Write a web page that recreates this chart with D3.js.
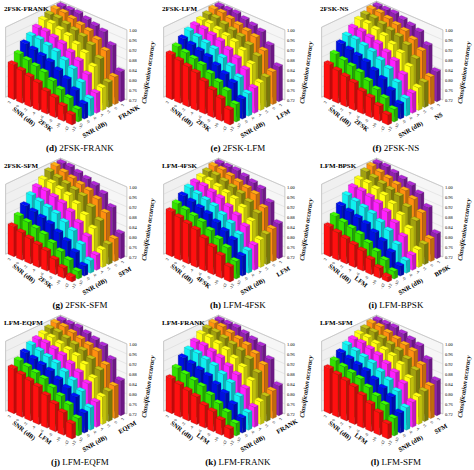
<!DOCTYPE html>
<html><head><meta charset="utf-8">
<script src="https://cdn.jsdelivr.net/npm/d3@7/dist/d3.min.js"></script>
<style>body{margin:0;background:#fff}</style></head>
<body><svg id="c" width="474" height="470"></svg>
<script>
// Panel titles and captions
var titles = ["2FSK-FRANK", "2FSK-LFM", "2FSK-NS", "2FSK-SFM", "LFM-4FSK", "LFM-BPSK", "LFM-EQFM", "LFM-FRANK", "LFM-SFM"];
var captions = ["(d) 2FSK-FRANK", "(e) 2FSK-LFM", "(f) 2FSK-NS", "(g) 2FSK-SFM", "(h) LFM-4FSK", "(i) LFM-BPSK", "(j) LFM-EQFM", "(k) LFM-FRANK", "(l) LFM-SFM"];
var axisA = ["2FSK", "2FSK", "2FSK", "2FSK", "4FSK", "LFM", "LFM", "LFM", "LFM"];
var axisB = ["FRANK", "LFM", "NS", "SFM", "LFM", "BPSK", "EQFM", "FRANK", "SFM"];
var snrTicks = ["-12", "-10", "-8", "-6", "-4", "-2", "0", "2"];
var zTicks = [0.72, 0.76, 0.80, 0.84, 0.88, 0.92, 0.96, 1.00];
var rowColors = ["#ff1010", "#33e000", "#0010e0", "#10f0f0", "#ff20ff", "#ffff10", "#a0a010", "#ff9010", "#9020b0"];

// accuracy[row][snr index], rows front (red) to back (purple), snr -12 .. 2
var accA = [
  [0.76, 0.78, 0.80, 0.81, 0.83, 0.84, 0.85, 0.86],
  [0.77, 0.80, 0.82, 0.84, 0.86, 0.87, 0.88, 0.89],
  [0.78, 0.82, 0.85, 0.87, 0.89, 0.90, 0.91, 0.92],
  [0.79, 0.84, 0.88, 0.90, 0.92, 0.93, 0.94, 0.94],
  [0.80, 0.86, 0.90, 0.92, 0.94, 0.95, 0.96, 0.96],
  [0.81, 0.88, 0.92, 0.94, 0.96, 0.97, 0.98, 0.98],
  [0.82, 0.90, 0.94, 0.96, 0.97, 0.98, 0.99, 0.99],
  [0.83, 0.92, 0.95, 0.97, 0.98, 0.99, 1.00, 1.00],
  [0.84, 0.93, 0.97, 0.98, 0.99, 1.00, 1.00, 1.00]
];
var accB = [
  [0.78, 0.81, 0.83, 0.85, 0.87, 0.88, 0.89, 0.90],
  [0.79, 0.83, 0.85, 0.87, 0.89, 0.90, 0.91, 0.92],
  [0.80, 0.85, 0.87, 0.89, 0.91, 0.92, 0.93, 0.94],
  [0.81, 0.86, 0.89, 0.91, 0.93, 0.94, 0.95, 0.96],
  [0.82, 0.88, 0.91, 0.93, 0.95, 0.96, 0.97, 0.97],
  [0.83, 0.89, 0.93, 0.95, 0.96, 0.97, 0.98, 0.98],
  [0.84, 0.91, 0.94, 0.96, 0.97, 0.98, 0.99, 0.99],
  [0.85, 0.92, 0.96, 0.97, 0.98, 0.99, 1.00, 1.00],
  [0.86, 0.93, 0.97, 0.98, 0.99, 1.00, 1.00, 1.00]
];
var accC = [
  [0.74, 0.76, 0.78, 0.80, 0.81, 0.82, 0.83, 0.84],
  [0.75, 0.78, 0.80, 0.82, 0.84, 0.85, 0.86, 0.87],
  [0.76, 0.80, 0.83, 0.85, 0.87, 0.88, 0.89, 0.90],
  [0.77, 0.82, 0.86, 0.88, 0.90, 0.91, 0.92, 0.93],
  [0.78, 0.84, 0.88, 0.91, 0.93, 0.94, 0.95, 0.95],
  [0.79, 0.86, 0.90, 0.93, 0.95, 0.96, 0.97, 0.97],
  [0.80, 0.88, 0.92, 0.95, 0.96, 0.97, 0.98, 0.99],
  [0.81, 0.90, 0.94, 0.96, 0.97, 0.98, 0.99, 1.00],
  [0.82, 0.91, 0.95, 0.97, 0.98, 0.99, 1.00, 1.00]
];
var panelData = [accA, accB, accA, accC, accB, accC, accB, accA, accB];

var svg = d3.select("#c");
var hScale = d3.scaleLinear().domain([0.72, 1.00]).range([0, 70]);
var aStep = [-8.3, -3.6], bStep = [6.1, -2.9];
var O = [72, 126];

function proj(a, b, z) {
  return [O[0] + a * aStep[0] + b * bStep[0], O[1] + a * aStep[1] + b * bStep[1] - hScale(z)];
}
function poly(pts) { return "M" + pts.map(function(p) { return p.join(","); }).join("L") + "Z"; }

titles.forEach(function(t, k) {
  var col = k % 3, row = Math.floor(k / 3);
  var g = svg.append("g").attr("transform", "translate(" + (col * 158) + "," + (row * 157) + ")");
  var data = panelData[k];
  var f = "Liberation Serif";

  // back walls
  var na = snrTicks.length, nb = rowColors.length;
  g.append("path").attr("d", poly([proj(na, 0, 0.72), proj(na, nb, 0.72), proj(na, nb, 1.0), proj(na, 0, 1.0)]))
    .attr("fill", "#f0f0f0").attr("stroke", "#999").attr("stroke-width", 0.5);
  g.append("path").attr("d", poly([proj(0, nb, 0.72), proj(na, nb, 0.72), proj(na, nb, 1.0), proj(0, nb, 1.0)]))
    .attr("fill", "#f6f6f6").attr("stroke", "#999").attr("stroke-width", 0.5);
  zTicks.forEach(function(z) {
    g.append("path").attr("d", "M" + proj(na, 0, z) + "L" + proj(na, nb, z) + "L" + proj(0, nb, z))
      .attr("fill", "none").attr("stroke", "#ccc").attr("stroke-width", 0.4);
    var p = proj(0, nb, z);
    g.append("text").attr("x", p[0] + 2).attr("y", p[1] + 2).attr("font-size", 4.5)
      .attr("font-family", f).text(z.toFixed(2));
  });

  // bars, back to front
  var bars = [];
  data.forEach(function(r, b) { r.forEach(function(v, a) { bars.push({a: a, b: b, v: v}); }); });
  bars.sort(function(p, q) { return (q.a + q.b) - (p.a + p.b); });
  var wa = 0.72, wb = 0.6;
  bars.forEach(function(d) {
    var a0 = d.a + 0.14, a1 = a0 + wa, b0 = d.b + 0.2, b1 = b0 + wb;
    var c = d3.color(rowColors[d.b]);
    var edge = c.darker(1.5);
    g.append("path").attr("d", poly([proj(a1, b0, 0.72), proj(a0, b0, 0.72), proj(a0, b0, d.v), proj(a1, b0, d.v)]))
      .attr("fill", c.formatHex()).attr("stroke", edge).attr("stroke-width", 0.25);
    g.append("path").attr("d", poly([proj(a0, b0, 0.72), proj(a0, b1, 0.72), proj(a0, b1, d.v), proj(a0, b0, d.v)]))
      .attr("fill", c.darker(0.8)).attr("stroke", edge).attr("stroke-width", 0.25);
    g.append("path").attr("d", poly([proj(a0, b0, d.v), proj(a0, b1, d.v), proj(a1, b1, d.v), proj(a1, b0, d.v)]))
      .attr("fill", c.brighter(0.6)).attr("stroke", edge).attr("stroke-width", 0.25);
  });

  // tick labels along both floor edges
  snrTicks.forEach(function(s, i) {
    var p = proj(i + 0.5, 0, 0.72);
    g.append("text").attr("transform", "translate(" + (p[0] + 1) + "," + (p[1] + 3) + ") rotate(-65)")
      .attr("text-anchor", "end").attr("font-size", 4).attr("font-family", f).text(s);
    var q = proj(0, i * 9 / 8 + 0.5, 0.72);
    g.append("text").attr("transform", "translate(" + (q[0] + 1) + "," + (q[1] + 3) + ") rotate(-65)")
      .attr("text-anchor", "end").attr("font-size", 4).attr("font-family", f).text(s);
  });

  g.append("text").attr("transform", "translate(12,110) rotate(38)").attr("font-size", 6.5).attr("font-weight", "bold")
    .attr("font-family", f).text("SNR (dB)");
  g.append("text").attr("transform", "translate(38,122) rotate(38)").attr("font-size", 6.5).attr("font-weight", "bold")
    .attr("font-family", f).text(axisA[k]);
  g.append("text").attr("transform", "translate(84,138) rotate(-30)").attr("font-size", 6.5).attr("font-weight", "bold")
    .attr("font-family", f).text("SNR (dB)");
  g.append("text").attr("transform", "translate(120,120) rotate(-30)").attr("font-size", 6.5).attr("font-weight", "bold")
    .attr("font-family", f).text(axisB[k]);
  g.append("text").attr("transform", "translate(146,104) rotate(-82)").attr("font-size", 6.5).attr("font-weight", "bold")
    .attr("font-style", "italic").attr("font-family", f).text("Classification accuracy");
  g.append("text").attr("x", 4).attr("y", 11).attr("font-size", 7).attr("font-weight", "bold")
    .attr("font-family", f).text(t);
  g.append("text").attr("x", 80).attr("y", 151).attr("text-anchor", "middle").attr("font-size", 9)
    .attr("font-family", f).html("<tspan font-weight='bold'>" + captions[k].slice(0, 3) + "</tspan>" + captions[k].slice(3));
});
</script></body></html>
